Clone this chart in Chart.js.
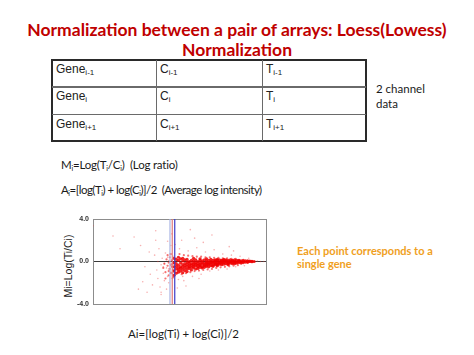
<!DOCTYPE html>
<html><head><meta charset="utf-8">
<script src="https://cdn.jsdelivr.net/npm/chart.js@4.4.0/dist/chart.umd.min.js"></script>
<style>
html,body{margin:0;padding:0;background:#fff;width:474px;height:355px;overflow:hidden;}
body{position:relative;font-family:Lato,"Liberation Sans",sans-serif;}
.abs{position:absolute;white-space:nowrap;}
#title{left:0;width:474px;top:19.5px;text-align:center;color:#C00000;font-weight:bold;font-size:17.5px;line-height:20px;}
.ln{position:absolute;background:#6a6a6a;}
.cell{position:absolute;font-family:"Liberation Sans",Arial,sans-serif;font-size:12px;color:#222;line-height:13px;}
.cell sub{font-size:8px;vertical-align:-2px;line-height:0;}
.txt{position:absolute;white-space:nowrap;font-size:11.5px;color:#1a1a1a;line-height:15px;}
.txt sub{font-size:7px;vertical-align:-2px;line-height:0;}
#orange{left:297px;top:244px;color:#F0A01E;font-weight:bold;font-size:11px;line-height:13px;}
#ylab{left:68px;top:266px;font-family:"Liberation Sans",Arial,sans-serif;font-size:10.5px;color:#222;transform:translate(-50%,-50%) rotate(-90deg);}
canvas{position:absolute;left:0;top:0;}
</style></head>
<body>
<div id="title" class="abs">Normalization between a pair of arrays: Loess(Lowess)<br>Normalization</div>

<div style="position:absolute;left:51px;top:59px;width:312px;height:79px;border:2px solid #2a2a2a;"></div>
<div class="ln" style="left:52px;top:86px;width:314px;height:1.5px;"></div>
<div class="ln" style="left:52px;top:113.5px;width:314px;height:1.5px;"></div>
<div class="ln" style="left:155.5px;top:60px;width:1.5px;height:81px;"></div>
<div class="ln" style="left:261.5px;top:60px;width:1.5px;height:81px;"></div>

<div class="cell" style="left:56px;top:63px;">Gene<sub>i-1</sub></div>
<div class="cell" style="left:160px;top:63px;">C<sub>i-1</sub></div>
<div class="cell" style="left:266px;top:63px;">T<sub>i-1</sub></div>
<div class="cell" style="left:56px;top:90px;">Gene<sub>i</sub></div>
<div class="cell" style="left:160px;top:90px;">C<sub>i</sub></div>
<div class="cell" style="left:266px;top:90px;">T<sub>i</sub></div>
<div class="cell" style="left:56px;top:118px;">Gene<sub>i+1</sub></div>
<div class="cell" style="left:160px;top:118px;">C<sub>i+1</sub></div>
<div class="cell" style="left:266px;top:118px;">T<sub>i+1</sub></div>

<div class="txt" style="left:376px;top:81px;">2 channel<br>data</div>
<div class="txt" style="left:61px;top:156.5px;letter-spacing:-0.2px;">M<sub>i</sub>=Log(T<sub>i</sub>/C<sub>i</sub>)&nbsp; (Log ratio)</div>
<div class="txt" style="left:61px;top:181.5px;letter-spacing:-0.5px;">A<sub>i</sub>=[log(T<sub>i</sub>) + log(C<sub>i</sub>)]/2&nbsp; (Average log intensity)</div>
<div id="orange" class="abs">Each point corresponds to a<br>single gene</div>
<div class="txt" style="left:128px;top:326px;">Ai=[log(Ti) + log(Ci)]/2</div>
<div id="ylab" class="abs">Mi=Log(Ti/Ci)</div>

<canvas id="c" width="474" height="355"></canvas>
<script>
// Y axis ticks
const yTicks = [-4, 0, 4];
// Vertical reference lines (A positions)
const refLinesA = [7.12, 7.33, 7.56];
const refLineColors = ['#a9b6e6', '#e07a7a', '#3b3bc8'];

// Dense core of points (A, M)
const coreA = [
7.5,7.5,7.5,7.5,7.5,
7.7,7.7,7.7,7.7,7.7,
7.9,7.9,7.9,7.9,7.9,7.9,
8.1,8.1,8.1,8.1,8.1,
8.3,8.3,8.3,8.3,8.3,8.3,
8.5,8.5,8.5,8.5,8.5,
8.7,8.7,8.7,8.7,8.7,8.7,
8.9,8.9,8.9,8.9,8.9,
9.1,9.1,9.1,9.1,9.1,
9.3,9.3,9.3,9.3,9.3,9.3,
9.5,9.5,9.5,9.5,9.5,
9.7,9.7,9.7,9.7,9.7,
9.9,9.9,9.9,9.9,9.9,9.9,
10.1,10.1,10.1,10.1,10.1,
10.3,10.3,10.3,10.3,10.3,
10.5,10.5,10.5,10.5,10.5,10.5,
10.7,10.7,10.7,10.7,10.7,
10.9,10.9,10.9,10.9,10.9,
11.1,11.1,11.1,11.1,11.1,
11.3,11.3,11.3,11.3,11.3,
11.5,11.5,11.5,11.5,11.5,11.5,
11.7,11.7,11.7,11.7,
11.9,11.9,11.9,11.9,11.9,
12.1,12.1,12.1,12.1,12.1,
12.3,12.3,12.3,12.3,
12.5,12.5,12.5,12.5,12.5,
12.7,12.7,12.7,12.7,
12.9,12.9,12.9,12.9,
13.1,13.1,13.1,13.1,
13.3,13.3,13.3,
13.5,13.5,13.5,13.5,
13.7,13.7,13.7,
13.9,13.9,13.9,
14.1,14.1,
14.3,14.3,14.3,
14.5,14.5,
14.7,14.7,
14.9
];
const coreM = [
-0.9,-0.5,-0.1,0.3,-1.3,
-0.7,-0.2,0.2,-1.1,-0.45,
-0.8,-0.35,0.1,-0.6,-1.0,0.4,
-0.5,-0.15,-0.9,0.25,-0.65,
-0.3,-0.75,0.05,-0.5,-1.05,0.3,
-0.6,-0.2,-0.85,0.15,-0.4,
-0.45,-0.05,-0.7,-0.25,0.2,-0.95,
-0.35,-0.65,0.0,-0.15,-0.5,
-0.55,-0.2,0.1,-0.8,-0.35,
-0.3,-0.6,0.05,-0.15,-0.45,0.3,
-0.4,-0.1,-0.7,0.15,-0.25,
-0.2,-0.5,0.0,-0.35,-0.65,
-0.3,0.1,-0.55,-0.15,-0.4,0.25,
-0.25,-0.5,0.05,-0.1,-0.6,
-0.15,-0.4,0.15,-0.3,-0.55,
-0.2,0.05,-0.45,-0.1,0.25,-0.35,
-0.1,-0.3,0.1,-0.5,-0.2,
-0.25,0.0,-0.4,0.2,-0.1,
-0.15,0.1,-0.35,-0.05,-0.45,
-0.2,0.05,-0.3,0.15,-0.1,
-0.1,-0.3,0.1,-0.2,0.2,-0.4,
-0.05,-0.25,0.15,-0.15,
-0.15,0.05,-0.3,0.1,-0.05,
-0.1,0.1,-0.25,0.0,0.2,
-0.05,-0.2,0.15,0.05,
-0.1,0.1,-0.2,0.0,-0.3,
0.0,-0.15,0.15,-0.05,
-0.1,0.05,-0.2,0.1,
0.0,-0.1,0.15,-0.2,
-0.05,0.1,-0.15,
0.0,-0.1,0.1,0.05,
-0.05,0.05,-0.15,
0.0,0.1,-0.1,
-0.05,0.05,
0.0,-0.08,0.06,
0.0,0.04,
-0.02,0.02,
0.0
];

// Medium-density points around the core edges (A, M)
const edgeA = [6.5,6.6,6.7,6.8,6.9,7.0,7.0,7.1,7.1,7.2,7.2,7.3,7.3,7.4,7.4,7.4,6.9,6.7,7.2,7.0,
8.0,8.4,8.8,9.2,9.6,10.0,10.4,10.8,11.2,11.6,12.0,12.4,12.8,13.2,
8.2,8.6,9.0,9.4,9.8,10.2,10.6,11.0,11.4,11.8,12.2,12.6,13.0,13.4];
const edgeM = [-0.6,-0.2,-1.0,0.2,-0.4,-1.3,-0.1,-0.7,0.4,-0.3,-1.1,-0.5,0.1,-0.8,-0.2,-1.5,0.6,-1.6,0.7,-0.9,
0.7,0.6,0.55,0.5,0.45,0.45,0.4,0.4,0.35,0.35,0.3,0.3,0.25,0.25,
-1.2,-1.1,-1.0,-0.9,-0.85,-0.8,-0.75,-0.7,-0.6,-0.55,-0.5,-0.45,-0.4,-0.35];

// Sparse scattered points (A, M)
const sparseA = [0.0,1.85,2.5,3.8,4.2,4.4,4.6,4.8,5.0,5.2,5.3,5.5,5.7,5.8,5.8,5.9,6.0,6.1,6.2,6.3,6.3,6.3,6.4,6.5,6.6,6.7,6.8,6.8,6.9,6.9,7.0,7.0,7.1,7.2,7.2,7.3,7.3,7.4,7.4,
7.6,7.8,7.9,8.0,8.2,8.3,8.4,8.6,8.8,9.0,9.2,9.4,9.6,9.8,10.0,10.2,10.4,10.8,11.0,11.2,11.6,12.0,12.4,12.6,12.8,13.0,13.2,13.6,14.0,14.4,15.2,15.5,15.8,
6.6,7.0,7.3,6.0,6.5,7.45,7.2,6.9,7.1];
const sparseM = [3.37,2.4,1.2,2.3,-2.6,1.5,-1.9,-0.5,-2.9,0.9,-1.2,-2.2,0.6,2.9,2.0,-0.8,-1.6,1.2,-2.4,-0.3,-2.9,-3.1,0.3,-1.1,-1.8,0.8,-0.6,-2.6,-1.4,1.9,0.1,-2.0,-0.9,1.5,-0.4,-1.6,2.6,0.5,-1.2,
1.6,-2.5,-1.7,1.2,2.0,-1.4,-1.8,-2.3,1.0,3.0,-1.4,2.2,1.3,-1.6,-1.2,1.8,0.9,-0.9,2.5,1.1,-0.8,0.7,-0.7,1.4,0.6,1.0,-0.5,0.5,-0.4,0.3,0.05,0.0,0.0,
-0.2,-0.7,-0.2,0.0,-0.5,-0.9,-1.0,0.4,0.7];

const xRange = [0, 16];

function pts(a, m) { return a.map((v, i) => ({x: v, y: m[i]})); }

const datasets = [];
refLinesA.forEach((a, i) => {
  datasets.push({type: 'line', data: [{x: a, y: yTicks[0]}, {x: a, y: yTicks[yTicks.length - 1]}],
    borderColor: refLineColors[i], borderWidth: 1.2, pointRadius: 0, fill: false});
});
datasets.push({type: 'scatter', data: pts(coreA, coreM), backgroundColor: 'rgba(240,0,0,0.85)', borderWidth: 0, pointRadius: 1.6});
datasets.push({type: 'scatter', data: pts(edgeA, edgeM), backgroundColor: 'rgba(240,20,20,0.6)', borderWidth: 0, pointRadius: 1.1});
datasets.push({type: 'scatter', data: pts(sparseA, sparseM), backgroundColor: 'rgba(235,60,60,0.4)', borderWidth: 0, pointRadius: 0.8});

new Chart(document.getElementById('c'), {
  type: 'scatter',
  data: {datasets},
  options: {
    responsive: false, animation: false, devicePixelRatio: 1,
    layout: {padding: {left: 0, top: 219, right: 208, bottom: 51}},
    plugins: {legend: {display: false}, tooltip: {enabled: false}},
    scales: {
      x: {type: 'linear', min: xRange[0], max: xRange[1],
        afterBuildTicks: s => { s.ticks = xRange.map(v => ({value: v})); },
        afterFit: s => { s.height = 0; },
        ticks: {display: false}, grid: {color: '#8c8c8c', drawTicks: false}, border: {color: '#8c8c8c'}},
      y: {type: 'linear', min: yTicks[0], max: yTicks[yTicks.length - 1],
        afterBuildTicks: s => { s.ticks = yTicks.map(v => ({value: v})); },
        afterFit: s => { s.width = 93; },
        ticks: {padding: 4, color: '#333', font: {family: 'Liberation Sans', size: 7, weight: 'bold'}, callback: v => v.toFixed(1)},
        grid: {drawTicks: false, color: c => c.tick && c.tick.value === 0 ? '#3a3a3a' : '#8c8c8c'},
        border: {color: '#8c8c8c'}}
    }
  }
});
</script>
</body></html>
